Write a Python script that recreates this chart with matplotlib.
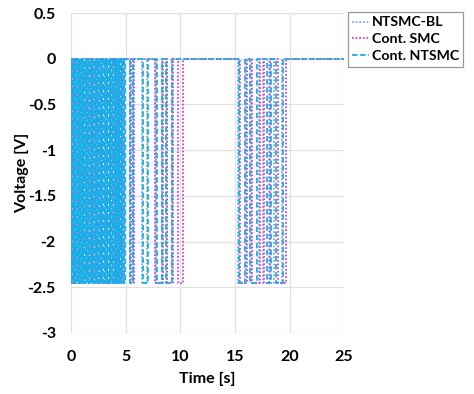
import matplotlib.pyplot as plt

plt.rcParams["font.family"] = ["Lato", "DejaVu Sans"]
plt.rcParams["font.weight"] = "bold"
plt.rcParams["axes.unicode_minus"] = False

# Pulse level and on-intervals (start, end) in seconds for each controller
low_level = -2.45
t_end = 25

bl_pulses = [(0.05, 0.2), (0.45, 0.6), (0.9, 1.05), (1.35, 1.5), (1.8, 1.95),
             (2.25, 2.4), (2.7, 2.85), (3.15, 3.3), (3.6, 3.75), (4.05, 4.2),
             (4.5, 4.65), (5.35, 5.65), (6.5, 6.95), (7.75, 8.3), (8.75, 9.25),
             (15.3, 16.0), (16.45, 17.2), (17.6, 18.1), (18.6, 19.3)]

smc_pulses = [(0.1, 0.3), (0.6, 0.8), (1.1, 1.3), (1.6, 1.8), (2.1, 2.3),
              (2.6, 2.8), (3.1, 3.3), (3.6, 3.8), (4.1, 4.3), (4.55, 4.75),
              (5.45, 5.75), (7.7, 8.4), (8.8, 9.3), (9.75, 10.25),
              (15.45, 16.1), (16.6, 17.3), (17.7, 18.2), (18.9, 19.65)]

ntsmc_pulses = [(0.0, 0.08), (0.15, 0.23), (0.3, 0.38), (0.45, 0.53), (0.6, 0.68),
                (0.75, 0.83), (0.9, 0.98), (1.05, 1.13), (1.2, 1.28), (1.35, 1.43),
                (1.5, 1.58), (1.65, 1.73), (1.8, 1.88), (1.95, 2.03), (2.1, 2.18),
                (2.25, 2.33), (2.4, 2.48), (2.55, 2.63), (2.7, 2.78), (2.85, 2.93),
                (3.0, 3.08), (3.15, 3.23), (3.3, 3.38), (3.45, 3.53), (3.6, 3.68),
                (3.75, 3.83), (3.9, 3.98), (4.05, 4.13), (4.2, 4.28), (4.35, 4.43),
                (4.5, 4.58), (4.65, 4.73), (4.8, 4.9),
                (5.4, 5.7), (6.55, 7.0), (7.9, 8.35),
                (8.7, 9.2), (15.35, 15.9), (16.4, 17.0), (17.9, 18.3), (18.8, 19.4)]

labels = ["NTSMC-BL", "Cont. SMC", "Cont. NTSMC"]
colors = ["#8FA6D6", "#D045D0", "#19AEE8"]
styles = [(0, (1, 1)), (0, (1, 1)), (0, (3, 1.5))]


def to_steps(pulses):
    xs, ys = [0], [0]
    for a, b in pulses:
        xs += [a, a, b, b]
        ys += [0, low_level, low_level, 0]
    xs.append(t_end)
    ys.append(0)
    return xs, ys


fig = plt.figure(figsize=(4.74, 3.94), dpi=100)
ax = fig.add_axes([0.150, 0.155, 0.576, 0.812])

for pulses, lab, c, ls in zip([bl_pulses, smc_pulses, ntsmc_pulses], labels, colors, styles):
    xs, ys = to_steps(pulses)
    ax.plot(xs, ys, color=c, linestyle=ls, linewidth=1.3, label=lab)

ax.set_xlim(0, 25)
ax.set_ylim(-3, 0.5)
ax.set_xticks([0, 5, 10, 15, 20, 25])
ax.set_yticks([0.5, 0, -0.5, -1, -1.5, -2, -2.5, -3])
ax.set_yticklabels(["0.5", "0", "-0.5", "-1", "-1.5", "-2", "-2.5", "-3"])
ax.tick_params(length=0, labelsize=11.5)
ax.tick_params(axis="x", pad=12)
ax.tick_params(axis="y", pad=11)
for s in ax.spines.values():
    s.set_visible(False)
ax.grid(True, color="#E0E0E0", linewidth=0.9)
ax.set_axisbelow(True)
ax.set_xlabel("Time [s]", fontsize=11.5, fontweight="bold")
ax.set_ylabel("Voltage [V]", fontsize=11.5, fontweight="bold")
ax.xaxis.set_label_coords(0.5, -0.122)
ax.yaxis.set_label_coords(-0.155, 0.5)

leg = fig.legend(loc="upper left", bbox_to_anchor=(0.734, 0.969), fontsize=10.2,
                 handlelength=1.2, handletextpad=0.2, borderpad=0.3,
                 labelspacing=0.35, fancybox=False, edgecolor="#808080",
                 borderaxespad=0)
leg.get_frame().set_linewidth(0.9)

plt.savefig("out.png", dpi=100)
